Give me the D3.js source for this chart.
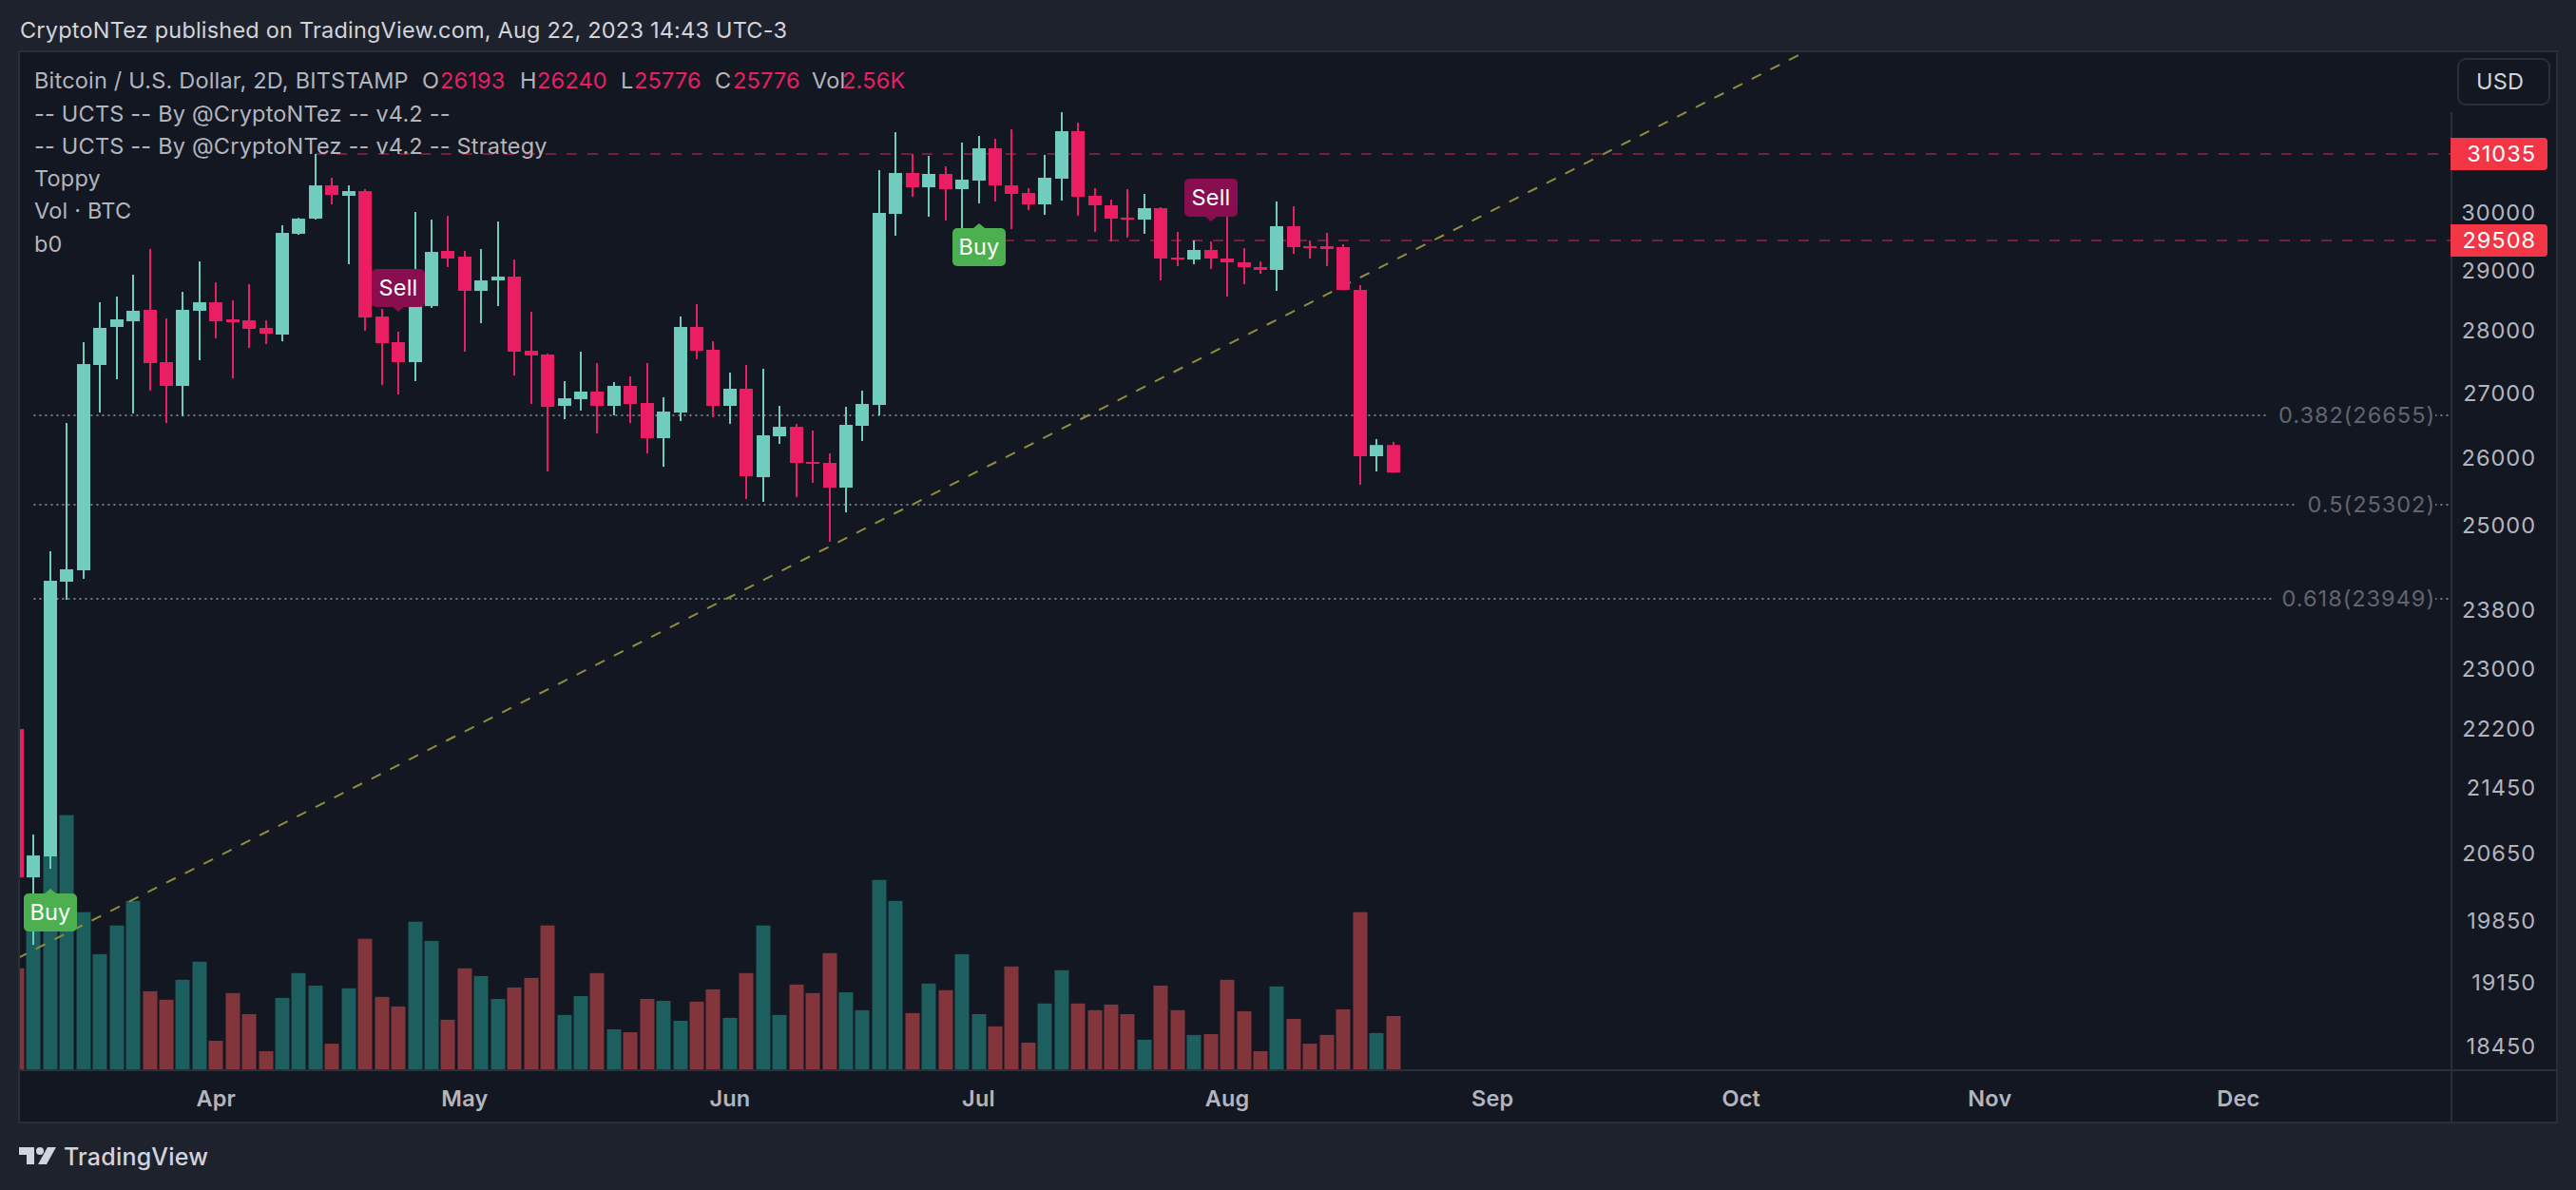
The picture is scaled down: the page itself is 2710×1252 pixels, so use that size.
<!DOCTYPE html>
<html>
<head>
<meta charset="utf-8">
<title>BTCUSD 2D</title>
<script src="https://cdnjs.cloudflare.com/ajax/libs/d3/7.8.5/d3.min.js"></script>
<style>
  html, body { margin: 0; padding: 0; background: #1e222d; }
  svg { display: block; }
  text { font-family: Inter, "Noto Sans", sans-serif; letter-spacing: 0.2px; }
  .wide { letter-spacing: 1px; }
</style>
</head>
<body>
<svg id="chart" width="2710" height="1252"></svg>
<script>
// values, one entry per 2D bar
const opens = [22196,20358,20608,24187,24348,27443,28058,28152,28340,27489,27111,28324,28465,28183,28167,28043,27934,29624,29887,30472,30287,30371,28230,27811,27489,28402,29330,29232,28655,28830,28894,27672,27611,26797,26901,27021,26797,27111,26842,26297,26693,28058,27688,26797,27066,25706,26326,26472,25935,25921,25550,26487,26812,29970,30693,30438,30676,30405,30557,31138,30472,30337,30137,30591,31450,30287,30120,29904,29870,30070,29216,29183,29346,29200,29135,29055,29007,29755,29411,29411,29395,28671,26022,26193];
const highs = [22300,20872,24619,26531,27811,28465,28560,28926,29362,28198,28639,29151,28798,28497,28767,28167,29772,29900,31035,30608,30472,30405,28355,27981,30004,29870,29937,29330,29362,29837,29183,28309,27626,27186,27657,27474,27171,27261,27474,26931,28230,28434,27826,27321,27443,27382,26797,26517,26414,26065,26782,27036,30744,31433,31035,31000,30812,31242,31363,31311,31485,30422,31018,31800,31607,30422,30220,30405,30321,30087,29656,29509,29493,30388,29378,29151,30187,30103,29509,29640,29444,28751,26283,26240];
const lows = [20300,19573,20460,23933,24227,26693,27216,26679,27036,26531,26634,27520,27872,27231,27718,27780,27826,29607,29870,30137,29103,27996,27126,26976,27186,28371,29055,27657,28120,28402,27276,26827,25792,26590,26723,26370,26649,26531,26065,25863,26561,27535,26620,26517,25381,25339,26210,25409,25621,24756,25185,26254,26649,29591,30270,29920,29854,29640,30153,30187,29706,30037,29954,30204,29937,29656,29493,29558,29624,28830,29071,29103,29023,28560,28767,28942,28655,29281,29200,29071,28671,25593,25792,25776];
const closes = [20358,20619,24200,24362,27458,28043,28183,28324,27474,27111,28340,28465,28152,28136,28027,27950,29640,29887,30472,30304,30371,28214,27795,27489,28402,29313,29200,28655,28830,28894,27657,27596,26782,26916,27021,26797,27111,26827,26297,26708,28058,27672,26797,27066,25721,26341,26472,25921,25907,25550,26502,26827,29987,30693,30438,30676,30405,30574,31138,30472,30321,30137,30608,31450,30270,30120,29887,29870,30070,29200,29183,29346,29200,29135,29055,29007,29755,29395,29378,29362,28671,26022,26193,25776];
const volumes = [4.85,7.3,10.25,12.21,7.55,5.53,6.91,8.09,3.75,3.34,4.30,5.17,1.37,3.66,2.65,0.87,3.43,4.62,4.02,1.23,3.89,6.27,3.48,3.02,7.09,6.17,2.38,4.85,4.48,3.38,3.93,4.39,6.91,2.61,3.52,4.62,1.92,1.78,3.38,3.29,2.33,3.25,3.84,2.47,4.62,6.91,2.61,4.07,3.66,5.58,3.70,2.84,9.10,8.09,2.70,4.12,3.80,5.53,2.65,2.06,4.94,1.28,3.16,4.76,3.16,2.84,3.11,2.65,1.42,4.02,2.84,1.65,1.69,4.30,2.79,0.87,3.98,2.42,1.23,1.65,2.88,7.55,1.74,2.56];

const priceTicks = [30000,29000,28000,27000,26000,25000,23800,23000,22200,21450,20650,19850,19150,18450];
const monthLabels = ["Apr","May","Jun","Jul","Aug","Sep","Oct","Nov","Dec"];
const monthBars = [12,27,43,58,73,89,104,119,134];

const fibRatios = ["0.382","0.5","0.618"];
const fibPrices = [26655,25302,23949];
const fibStartBar = 1;

const levelPrices = [31035,29508];
const levelStartBars = [18,57];

const trendBars = [0,110];
const trendPrices = [19419,33285];

const signalBars = [2,23,58,72];
const signalTypes = ["Buy","Sell","Buy","Sell"];

const legendLines = [
  "-- UCTS -- By @CryptoNTez -- v4.2 --",
  "-- UCTS -- By @CryptoNTez -- v4.2 -- Strategy",
  "Toppy",
  "Vol · BTC",
  "b0"
];

const green = "#70ccbd", red = "#e91e63";
const volGreen = "#1c5f5e", volRed = "#82353b";
const textCol = "#b2b5be", lineCol = "#2a2e39";
const fontPx = 23.5;

const svg = d3.select("#chart");

const x = d3.scaleLinear().domain([0, 83]).range([18, 1465.5]);
const y = d3.scaleLog().domain([18450, 31035]).range([1100.7, 162]);
const yVol = d3.scaleLinear().domain([0, 10]).range([1125, 906]);

const paneLeft = 21, paneRight = 2578, paneTop = 55, paneBottom = 1125;

// frame
svg.append("rect").attr("x", 20).attr("y", 54).attr("width", 2670).attr("height", 1127)
  .attr("fill", "#131722").attr("stroke", lineCol).attr("stroke-width", 2);
svg.append("defs").append("clipPath").attr("id", "pane").append("rect")
  .attr("x", paneLeft).attr("y", paneTop)
  .attr("width", paneRight - paneLeft).attr("height", paneBottom - paneTop);

const pane = svg.append("g").attr("clip-path", "url(#pane)");

// volume
pane.selectAll(".vol").data(volumes).enter().append("rect")
  .attr("class", "vol")
  .attr("x", (d, i) => Math.round(x(i)) - 7.5)
  .attr("width", 15)
  .attr("y", d => yVol(d))
  .attr("height", d => yVol(0) - yVol(d))
  .attr("fill", (d, i) => closes[i] >= opens[i] ? volGreen : volRed);

// fib levels
pane.selectAll(".fib").data(fibPrices).enter().append("line")
  .attr("class", "fib")
  .attr("x1", x(fibStartBar)).attr("x2", paneRight)
  .attr("y1", d => Math.round(y(d))).attr("y2", d => Math.round(y(d)))
  .attr("stroke", "#787b86").attr("stroke-width", 2).attr("stroke-dasharray", "2 4");

// stop / target levels
pane.selectAll(".level").data(levelPrices).enter().append("line")
  .attr("class", "level")
  .attr("x1", (d, i) => x(levelStartBars[i])).attr("x2", paneRight)
  .attr("y1", d => Math.round(y(d))).attr("y2", d => Math.round(y(d)))
  .attr("stroke", "#76203a").attr("stroke-width", 2).attr("stroke-dasharray", "11 11");

// trend line
pane.append("line")
  .attr("x1", x(trendBars[0])).attr("y1", y(trendPrices[0]))
  .attr("x2", x(trendBars[1])).attr("y2", y(trendPrices[1]))
  .attr("stroke", "#928d3e").attr("stroke-width", 2).attr("stroke-dasharray", "11 11");

// candles
const barIdx = d3.range(opens.length);
pane.selectAll(".wick").data(barIdx).enter().append("rect")
  .attr("class", "wick")
  .attr("x", i => Math.round(x(i)) - 1)
  .attr("width", 2)
  .attr("y", i => y(highs[i]))
  .attr("height", i => y(lows[i]) - y(highs[i]))
  .attr("fill", i => closes[i] >= opens[i] ? green : red);
pane.selectAll(".body").data(barIdx).enter().append("rect")
  .attr("class", "body")
  .attr("x", i => Math.round(x(i)) - 7)
  .attr("width", 14)
  .attr("y", i => y(Math.max(opens[i], closes[i])))
  .attr("height", i => Math.max(2, Math.abs(y(opens[i]) - y(closes[i]))))
  .attr("fill", i => closes[i] >= opens[i] ? green : red);

// buy / sell flags, hung 21px off the bar's wick
const flag = pane.selectAll(".flag").data(signalBars).enter().append("g")
  .attr("class", "flag")
  .attr("transform", (d, i) => {
    const buy = signalTypes[i] == "Buy";
    const tipY = buy ? y(lows[d]) + 21 : y(highs[d]) - 21;
    return "translate(" + Math.round(x(d)) + "," + tipY + ")";
  });
flag.append("path")
  .attr("d", (d, i) => signalTypes[i] == "Buy"
    ? "M-6,5 L0,0 L6,5 Z"
    : "M-6,-5 L0,0 L6,-5 Z")
  .attr("fill", (d, i) => signalTypes[i] == "Buy" ? "#4caf50" : "#880e4f");
flag.append("rect")
  .attr("x", -28).attr("width", 56).attr("height", 40).attr("rx", 5)
  .attr("y", (d, i) => signalTypes[i] == "Buy" ? 5 : -45)
  .attr("fill", (d, i) => signalTypes[i] == "Buy" ? "#4caf50" : "#880e4f");
flag.append("text")
  .attr("text-anchor", "middle")
  .attr("y", (d, i) => signalTypes[i] == "Buy" ? 25 : -25)
  .attr("dy", "0.35em")
  .attr("font-size", fontPx).attr("fill", "#fff")
  .text((d, i) => signalTypes[i]);

// fib labels, each one knocks a gap out of its dotted line
const fibBack = svg.append("g");
svg.selectAll(".fibLabel").data(fibPrices).enter().append("text")
  .attr("class", "fibLabel wide")
  .attr("x", 2562).attr("y", d => y(d)).attr("dy", "0.35em")
  .attr("text-anchor", "end").attr("font-size", fontPx).attr("fill", "#62656f")
  .text((d, i) => fibRatios[i] + "(" + d + ")")
  .each(function (d) {
    const w = this.getComputedTextLength();
    fibBack.append("rect")
      .attr("x", 2562 - w - 11).attr("y", y(d) - 6)
      .attr("width", w + 11).attr("height", 12)
      .attr("fill", "#131722");
  });

// separators
svg.append("rect").attr("x", 21).attr("y", 1125).attr("width", 2668).attr("height", 2).attr("fill", lineCol);
svg.append("rect").attr("x", 2578).attr("y", 118).attr("width", 2).attr("height", 1062).attr("fill", lineCol);

// price axis
const yAxis = d3.axisRight(y).tickValues(priceTicks).tickFormat(d3.format("d")).tickSize(0).tickPadding(0);
const yG = svg.append("g").attr("transform", "translate(2668,0)").call(yAxis);
yG.select(".domain").remove();
yG.selectAll("text")
  .attr("class", "wide")
  .attr("text-anchor", "end").attr("x", 0).attr("dy", "0.35em")
  .attr("font-size", fontPx).attr("font-family", null).attr("fill", textCol);

// price tags
svg.selectAll(".tag").data(levelPrices).enter().append("path")
  .attr("class", "tag")
  .attr("d", d => {
    const c = y(d);
    return "M2578," + (c - 17) + " H2676 a4,4 0 0 1 4,4 V" + (c + 13) + " a4,4 0 0 1 -4,4 H2578 Z";
  })
  .attr("fill", "#f23645");
svg.selectAll(".tagText").data(levelPrices).enter().append("text")
  .attr("class", "tagText wide")
  .attr("x", 2668).attr("y", d => y(d)).attr("dy", "0.35em")
  .attr("text-anchor", "end").attr("font-size", fontPx).attr("fill", "#fff")
  .text(d => d);

// USD button
svg.append("rect").attr("x", 2586).attr("y", 62).attr("width", 96).attr("height", 48).attr("rx", 8)
  .attr("fill", "none").attr("stroke", lineCol).attr("stroke-width", 2);
svg.append("text").attr("x", 2605).attr("y", 86).attr("dy", "0.35em")
  .attr("font-size", fontPx).attr("fill", "#d1d4dc").text("USD");

// time axis
svg.selectAll(".month").data(monthLabels).enter().append("text")
  .attr("class", "month")
  .attr("x", (d, i) => x(monthBars[i])).attr("y", 1156).attr("dy", "0.35em")
  .attr("text-anchor", "middle").attr("font-size", fontPx).attr("font-weight", 600)
  .attr("fill", textCol).text(d => d);

// header
svg.append("text").attr("x", 21).attr("y", 32).attr("dy", "0.35em")
  .attr("font-size", fontPx).attr("fill", "#d1d4dc")
  .text("CryptoNTez published on TradingView.com, Aug 22, 2023 14:43 UTC-3");

// legend
const legendTop = [
  ["Bitcoin / U.S. Dollar, 2D, BITSTAMP", 36, textCol],
  ["O", 444, textCol], ["26193", 463, red],
  ["H", 547, textCol], ["26240", 565, red],
  ["L", 653, textCol], ["25776", 667, red],
  ["C", 752, textCol], ["25776", 771, red],
  ["Vol", 854, textCol], ["2.56K", 886, red]
];
svg.selectAll(".legendTop").data(legendTop).enter().append("text")
  .attr("class", "legendTop")
  .attr("x", d => d[1]).attr("y", 85).attr("dy", "0.35em")
  .attr("font-size", fontPx).attr("fill", d => d[2]).text(d => d[0]);
svg.selectAll(".legendLine").data(legendLines).enter().append("text")
  .attr("class", "legendLine")
  .attr("x", 36).attr("y", (d, i) => 119.5 + i * 34.2).attr("dy", "0.35em")
  .attr("font-size", fontPx).attr("fill", textCol).text(d => d);

// footer logo
const logo = svg.append("g").attr("fill", "#d1d4dc");
logo.append("path").attr("d", "M20,1207 H36 V1225 H28 V1215 H20 Z");
logo.append("circle").attr("cx", 42).attr("cy", 1211).attr("r", 4);
logo.append("path").attr("d", "M50,1207 H59 L49,1225 H40 Z");
svg.append("text").attr("x", 67).attr("y", 1217).attr("dy", "0.35em")
  .attr("font-size", 25).attr("font-weight", 500).attr("fill", "#d1d4dc").text("TradingView");
</script>
</body>
</html>
